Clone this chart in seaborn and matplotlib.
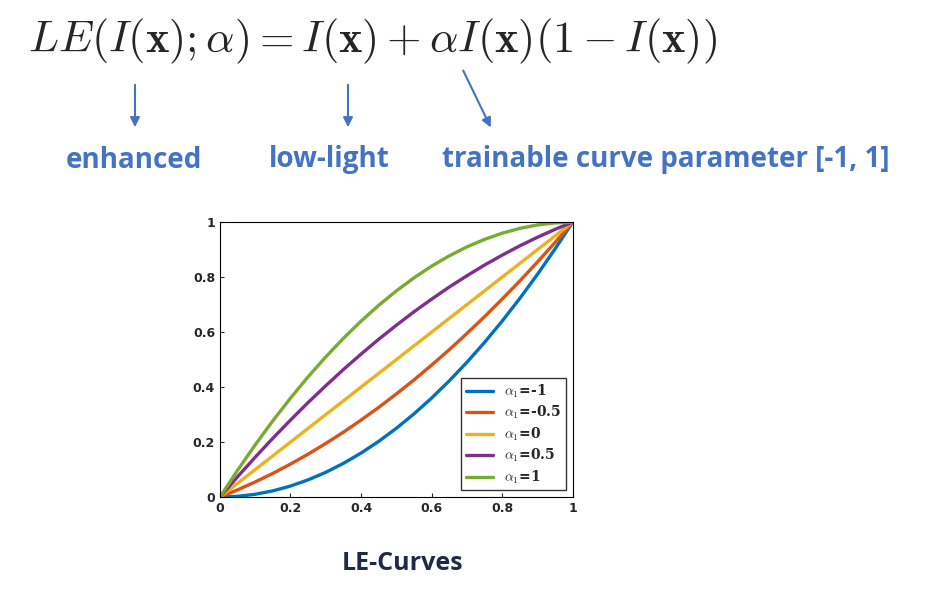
import matplotlib
matplotlib.use("Agg")
import matplotlib.pyplot as plt
import seaborn as sns
import pandas as pd

x_vals = [0, .05, .1, .15, .2, .25, .3, .35, .4, .45, .5, .55, .6, .65, .7, .75, .8, .85, .9, .95, 1.0]
curve_m1 = [0, .0025, .01, .0225, .04, .0625, .09, .1225, .16, .2025, .25, .3025, .36, .4225, .49, .5625, .64, .7225, .81, .9025, 1]
curve_m05 = [0, .026, .055, .086, .12, .156, .195, .236, .28, .326, .375, .426, .48, .536, .595, .656, .72, .786, .855, .926, 1]
curve_0 = [0, .05, .1, .15, .2, .25, .3, .35, .4, .45, .5, .55, .6, .65, .7, .75, .8, .85, .9, .95, 1]
curve_05 = [0, .074, .145, .214, .28, .344, .405, .464, .52, .574, .625, .674, .72, .764, .805, .844, .88, .914, .945, .974, 1]
curve_1 = [0, .0975, .19, .2775, .36, .4375, .51, .5775, .64, .6975, .75, .7975, .84, .8775, .91, .9375, .96, .9775, .99, .9975, 1]
labels = [r"$\alpha_1$=-1", r"$\alpha_1$=-0.5", r"$\alpha_1$=0", r"$\alpha_1$=0.5", r"$\alpha_1$=1"]
colors = ["#0072BD", "#D95319", "#EDB120", "#7E2F8E", "#77AC30"]

rows = []
for lab, ys in zip(labels, [curve_m1, curve_m05, curve_0, curve_05, curve_1]):
    for xv, yv in zip(x_vals, ys):
        rows.append((lab, xv, yv))
df = pd.DataFrame(rows, columns=["alpha", "x", "y"])

sns.set_style("white")
plt.rcParams["mathtext.fontset"] = "cm"
fig = plt.figure(figsize=(9.38, 5.91), dpi=100)
ax = fig.add_axes([0.2345, 0.159, 0.376, 0.465])
sns.lineplot(data=df, x="x", y="y", hue="alpha", palette=colors, linewidth=2.4, ax=ax)
ax.set_xlim(0, 1); ax.set_ylim(0, 1)
ax.set_xlabel(""); ax.set_ylabel("")
ax.set_xticks([0, .2, .4, .6, .8, 1]); ax.set_xticklabels(["0", "0.2", "0.4", "0.6", "0.8", "1"])
ax.set_yticks([0, .2, .4, .6, .8, 1]); ax.set_yticklabels(["0", "0.2", "0.4", "0.6", "0.8", "1"])
for t in ax.get_xticklabels() + ax.get_yticklabels():
    t.set_fontweight("bold"); t.set_fontsize(9)
ax.tick_params(direction="in", length=3, left=True, bottom=True)
for s in ax.spines.values():
    s.set_color("black"); s.set_linewidth(0.8)
leg = ax.legend(loc="lower right", fontsize=10, frameon=True, handlelength=2.0,
                borderpad=0.3, labelspacing=0.3, fancybox=False, edgecolor="black")
for t in leg.get_texts():
    t.set_family("serif"); t.set_fontweight("bold")

fig.text(0.03, 0.93, r"$LE(I(\mathbf{x});\alpha) = I(\mathbf{x}) + \alpha I(\mathbf{x})(1 - I(\mathbf{x}))$",
         fontsize=32, va="center", ha="left")
blue = "#4472C4"
for (x0, y0, x1, y1) in [(135, 82, 135, 130), (348, 82, 348, 130), (462, 68, 492, 130)]:
    fig.add_artist(matplotlib.patches.FancyArrowPatch(
        (x0 / 938, 1 - y0 / 591), (x1 / 938, 1 - y1 / 591), transform=fig.transFigure,
        arrowstyle="-|>", mutation_scale=14, color=blue, lw=1.5))
for tx, px in [("enhanced", 134), ("low-light", 329), ("trainable curve parameter [-1, 1]", 666)]:
    fig.text(px / 938, 1 - 160 / 591, tx, fontsize=20, fontweight="bold", color=blue,
             ha="center", va="center", family="Open Sans")
fig.text(403 / 938, 1 - 563 / 591, "LE-Curves", fontsize=18, fontweight="bold", color="#1F2A44",
         ha="center", va="center", family="Open Sans")
fig.savefig("out.png", dpi=100)
